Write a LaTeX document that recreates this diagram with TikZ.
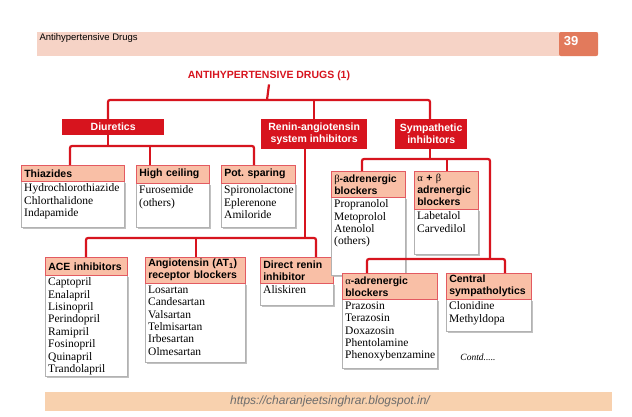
\documentclass[tikz,border=0pt]{standalone}
\usepackage{fontspec}
\setmainfont{Liberation Serif}
\setsansfont{Liberation Sans}
\usetikzlibrary{shadows}
\definecolor{rd}{HTML}{D7141E}
\definecolor{hfill}{HTML}{F9BFA6}
\definecolor{band}{HTML}{F6D3C6}
\definecolor{foot}{HTML}{F8D1AE}
\definecolor{pg}{HTML}{E27A5C}
\tikzset{
 conn/.style={draw=rd,line width=2.2pt,rounded corners=2pt},
 cat/.style={fill=rd,text=white,font=\sffamily\bfseries\fontsize{10.5}{12}\selectfont,align=center,anchor=north west,inner sep=0pt},
 hdr/.style={fill=hfill,draw=rd!70,line width=0.5pt,font=\sffamily\bfseries\fontsize{10.5}{12}\selectfont,align=left,anchor=north west,inner xsep=3pt,inner ysep=1pt},
 bdy/.style={fill=white,draw=gray!60,line width=0.5pt,anchor=north west,inner sep=0pt,drop shadow={shadow xshift=2pt,shadow yshift=-2pt,fill=gray!60,opacity=0.8}},
 btx/.style={font=\fontsize{11.5}{12.4}\selectfont,align=left,anchor=north west,inner xsep=3pt,inner ysep=2.5pt},
}
\newcommand{\gr}[1]{{\rmfamily\mdseries #1}}
\newcommand{\card}[8]{%
 \node[bdy,minimum width=#4pt,minimum height=#6pt] (#1b) at (#2,#3+#5) {};
 \node[btx] (#1t) at (#1b.north west) {#8};
 \node[hdr,minimum width=#4pt,minimum height=#5pt,text width=#4pt-6pt] (#1) at (#2,#3) {#7};}
\begin{document}
\begin{tikzpicture}[x=1pt,y=-1pt]
\useasboundingbox (0,0) rectangle (632,416);
\fill[white] (0,0) rectangle (632,416);
% header band
\fill[band] (37,32) rectangle (598,56);
\fill[pg,rounded corners=2pt] (559,32) rectangle (598,56);
\node[font=\sffamily\fontsize{9.5}{10}\selectfont,anchor=west] (ttl) at (36,38) {Antihypertensive Drugs};
\node[font=\sffamily\bfseries\fontsize{13}{14}\selectfont,text=white] (pgn) at (571,41) {39};
% title
\node[font=\sffamily\bfseries\fontsize{10.5}{12}\selectfont,text=rd] (root) at (269,76) {ANTIHYPERTENSIVE DRUGS (1)};
% categories
\node[cat,minimum width=102pt,minimum height=16pt] (diu) at (62,119) {Diuretics};
\node[cat,minimum width=106pt,minimum height=30pt] (ren) at (261,119) {Renin-angiotensin\\system inhibitors};
\node[cat,minimum width=72pt,minimum height=30pt] (sym) at (395,119) {Sympathetic\\inhibitors};
% cards
\card{thz}{21}{165}{103}{16}{46}{Thiazides}{Hydrochlorothiazide\\Chlorthalidone\\Indapamide}
\card{hc}{136}{165}{73}{18}{44}{High ceiling}{Furosemide\\(others)}
\card{ps}{221}{165}{74}{18}{44}{Pot.\ sparing}{Spironolactone\\Eplerenone\\Amiloride}
\card{ace}{45}{257}{82}{18}{101}{ACE inhibitors}{Captopril\\Enalapril\\Lisinopril\\Perindopril\\Ramipril\\Fosinopril\\Quinapril\\Trandolapril}
\card{at}{145}{257}{100}{26}{79}{Angiotensin (AT\textsubscript{1})\\receptor blockers}{Losartan\\Candesartan\\Valsartan\\Telmisartan\\Irbesartan\\Olmesartan}
\card{dr}{260}{257}{73}{26}{22}{Direct renin\\inhibitor}{Aliskiren}
\card{bb}{331}{171}{74}{26}{78}{\gr{β}-adrenergic\\blockers}{Propranolol\\Metoprolol\\Atenolol\\(others)}
\card{ab}{414}{171}{64}{38}{45}{\gr{α} + \gr{β}\\adrenergic\\blockers}{Labetalol\\Carvedilol}
\card{ab2}{342}{273}{95}{26}{69}{\gr{α}-adrenergic\\blockers}{Prazosin\\Terazosin\\Doxazosin\\Phentolamine\\Phenoxybenzamine}
\card{cs}{446}{273}{85}{26}{32}{Central\\sympatholytics}{Clonidine\\Methyldopa}
\node[font=\itshape\fontsize{9.5}{10}\selectfont] (ctd) at (478,357) {Contd.....};
% footer
\fill[foot] (45,392) rectangle (612,411);
\node[font=\sffamily\itshape\fontsize{12}{13}\selectfont,text=gray!85!black] (url) at (330,401) {https://charanjeetsinghrar.blogspot.in/};
% connectors
\coordinate (j1) at (267,100);
\coordinate (j2) at (108,146);
\coordinate (j3) at (305,238);
\coordinate (j4) at (430,159);
\coordinate (j5) at (490,259);
\draw[conn] (root.south) -- (j1);
\draw[conn] (diu.north-|j2) |- (j1) -| (sym.north-|j4);
\draw[conn] (ren.north) -- (ren.north|-j1);
\draw[conn] (diu.south-|j2) -- (j2);
\draw[conn] (70,165) |- (j2) -| (254,165);
\draw[conn] (150,165) -- (150,146);
\draw[conn] (ren.south-|j3) -- (j3);
\draw[conn] (86,257) |- (j3) -| (316,257);
\draw[conn] (196,257) -- (196,238);
\draw[conn] (sym.south-|j4) -- (j4);
\draw[conn] (362,171) |- (j4) -| (j5);
\draw[conn] (447,171) -- (447,159);
\draw[conn] (367,273) |- (j5) -| (505,273);
\end{tikzpicture}
\end{document}
